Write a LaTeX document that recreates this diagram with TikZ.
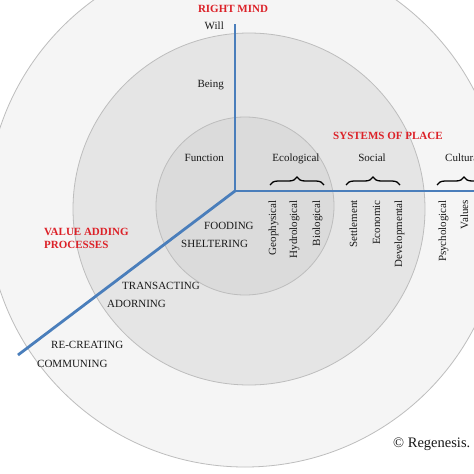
\documentclass[tikz,border=0pt]{standalone}
\usepackage{fontspec}
\setmainfont{Liberation Serif}
\usetikzlibrary{decorations.pathreplacing}
\definecolor{axisblue}{HTML}{4A7EBB}
\definecolor{headred}{HTML}{DC2128}
\tikzset{
  lbl/.style={inner sep=0pt, text=black!90, font=\fontsize{11}{13}\selectfont},
  head/.style={inner sep=0pt, text=headred, font=\fontsize{11}{13}\selectfont\bfseries},
  sub/.style={lbl, rotate=90, anchor=base east},
  axis/.style={axisblue, line width=2.8pt},
  ring/.style={draw=black!26, line width=0.8pt},
  grp/.style={decorate, decoration={brace, amplitude=8pt}, line width=1.3pt},
}
\begin{document}
\begin{tikzpicture}[x=1pt,y=-1pt]
  \useasboundingbox (0,0) rectangle (474,474);
  \clip (0,0) rectangle (474,474);
  \fill[white] (0,0) rectangle (474,474);

  % rings
  \filldraw[ring, fill=black!4] (245,209) circle (258pt);
  \filldraw[ring, fill=black!10] (249,209) circle (176pt);
  \filldraw[ring, fill=black!14] (245,206) circle (89pt);

  % axes
  \coordinate (O) at (235,191);
  \coordinate (N) at (235,24);
  \coordinate (E) at (480,191);
  \coordinate (SW) at (18,355);
  \draw[axis] (N) -- (O) -- (E);
  \draw[axis] (O) -- (SW);

  % right mind
  \node[head, anchor=base] (mind) at (233,12) {RIGHT MIND};
  \node[lbl, anchor=base east] (will) at (224,29) {Will};
  \node[lbl, anchor=base east] (being) at (224,87) {Being};
  \node[lbl, anchor=base east] (function) at (224,161) {Function};

  % systems of place
  \node[head, anchor=base west] (systems) at (333,139) {SYSTEMS OF PLACE};
  \node[lbl, anchor=base] (eco) at (296,161) {Ecological};
  \node[lbl, anchor=base] (soc) at (372,161) {Social};
  \node[lbl, anchor=base west] (cul) at (445,161) {Cultural};

  \coordinate (eco-l) at (270,185);
  \coordinate (eco-r) at (324,185);
  \coordinate (soc-l) at (346,185);
  \coordinate (soc-r) at (400,185);
  \coordinate (cul-l) at (437,185);
  \coordinate (cul-r) at (491,185);
  \draw[grp] (eco-l) -- (eco-r);
  \draw[grp] (soc-l) -- (soc-r);
  \draw[grp] (cul-l) -- (cul-r);

  \node[sub] (geo) at (276,200) {Geophysical};
  \node[sub] (hyd) at (297,200) {Hydrological};
  \node[sub] (bio) at (320,200) {Biological};
  \node[sub] (set) at (357,200) {Settlement};
  \node[sub] (eon) at (380,200) {Economic};
  \node[sub] (dev) at (402,200) {Developmental};
  \node[sub] (psy) at (446,200) {Psychological};
  \node[sub] (val) at (468,200) {Values};

  % value adding processes
  \node[head, anchor=north west, align=left] (value) at (44,228.5) {VALUE ADDING\\PROCESSES};
  \node[lbl, anchor=base west] (food) at (204,229) {FOODING};
  \node[lbl, anchor=base west] (shelt) at (181,247) {SHELTERING};
  \node[lbl, anchor=base west] (trans) at (122,289) {TRANSACTING};
  \node[lbl, anchor=base west] (adorn) at (107,307) {ADORNING};
  \node[lbl, anchor=base west] (recr) at (51,348) {RE-CREATING};
  \node[lbl, anchor=base west] (comm) at (37,367) {COMMUNING};

  \node[lbl, anchor=base west, font=\fontsize{14.5}{16}\selectfont] (copy) at (393,447) {© Regenesis.};
\end{tikzpicture}
\end{document}
